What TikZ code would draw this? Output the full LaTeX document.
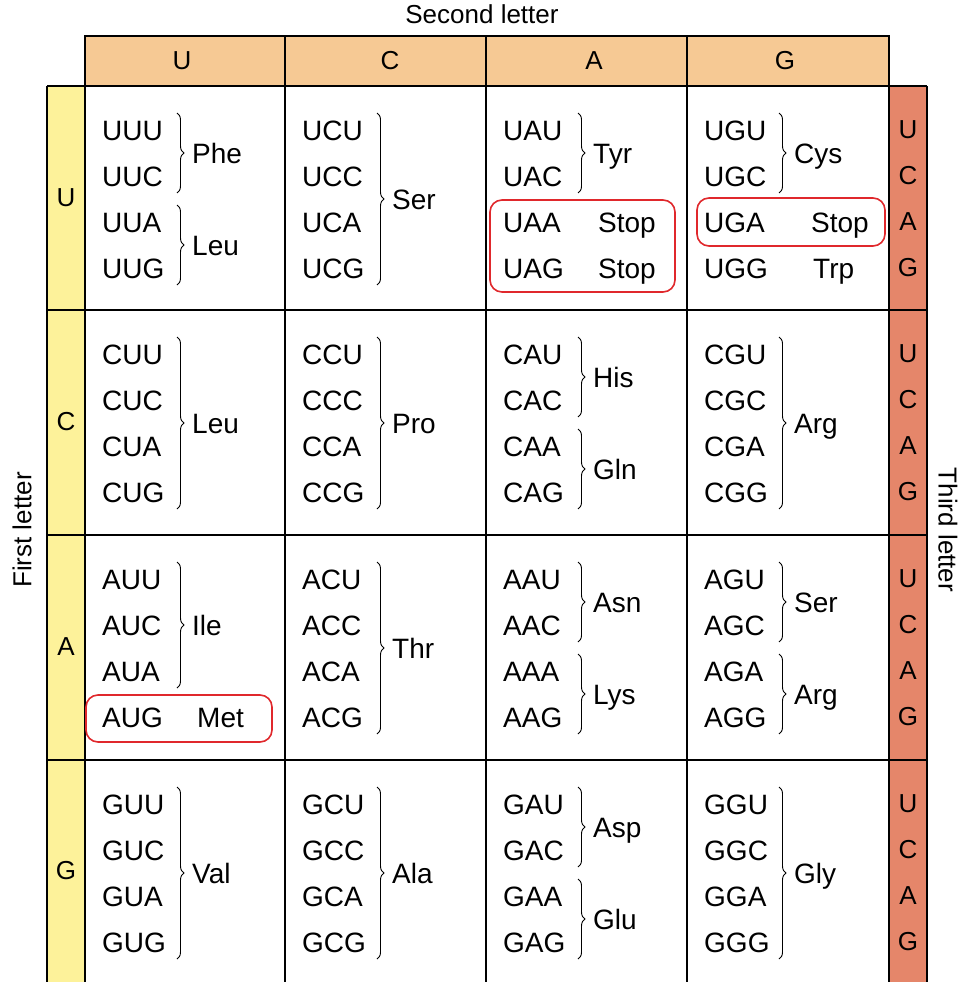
\documentclass[tikz,border=0pt]{standalone}
\usepackage{fontspec}
\setmainfont{Liberation Sans}
\usetikzlibrary{decorations.pathreplacing}
\definecolor{hdr}{HTML}{F6C994}
\definecolor{yel}{HTML}{FDF29A}
\definecolor{sal}{HTML}{E5866A}
\definecolor{stopred}{HTML}{E0282C}
\tikzset{
  cod/.style={anchor=base west,inner sep=0pt,font=\fontsize{28}{28}\selectfont},
  aa/.style={anchor=base west,inner sep=0pt,font=\fontsize{28}{28}\selectfont},
  lab/.style={inner sep=0pt,font=\fontsize{26}{26}\selectfont},
  brc/.style={decorate,decoration={brace,amplitude=7pt},line width=0.9pt},
  grid/.style={line width=2pt},
  hl/.style={draw=stopred,line width=1.6pt,rounded corners=12pt}
}
\newcommand{\codons}[6]{%
  \foreach \t [count=\i] in {#3,#4,#5,#6}
    \node[cod] (c-#3-\i) at (#1+17,#2+54+46*\i-46) {\t};}
\newcommand{\grp}[5]{%
  \draw[brc] (#1+92,#2+44+46*#3-46-17) -- (#1+92,#2+44+46*#4-46+17);
  \node[aa] (a-#1-#2-#3) at (#1+107,#2+54+23*#3+23*#4-46) {#5};}
\newcommand{\singl}[5]{%
  \node[aa] (s-#1-#2-#3) at (#1+#4,#2+54+46*#3-46) {#5};}
\begin{document}
\begin{tikzpicture}[x=1pt,y=-1pt]
\useasboundingbox (0,0) rectangle (966,982);
\fill[white] (0,0) rectangle (966,982);
\node[lab] (second) at (482,14) {Second letter};
\fill[hdr] (85,36) rectangle (889,86);
\fill[yel] (47,86) rectangle (85,982);
\fill[sal] (889,86) rectangle (927,982);
\draw[grid] (85,36) rectangle (889,86);
\foreach \x in {285,486,687} \draw[grid] (\x,36) -- (\x,982);
\draw[grid] (85,86) -- (85,982);
\draw[grid] (889,86) -- (889,982);
\draw[grid] (47,86) -- (47,982);
\draw[grid] (927,86) -- (927,982);
\draw[grid] (47,86) -- (927,86);
\foreach \y in {310,535,760} \draw[grid] (47,\y) -- (927,\y);
\foreach \l/\x in {U/182,C/390,A/594,G/785} \node[lab] (h\l) at (\x,61) {\l};
\foreach \l/\y in {U/198,C/422,A/647,G/871} \node[lab] (f\l) at (66,\y) {\l};
\foreach \y in {86,310,535,760}
  \foreach \l [count=\i] in {U,C,A,G}
    \node[lab] (t\l\y) at (908,\y+44+46*\i-46) {\l};
\node[lab,rotate=90] (first) at (22,530) {First letter};
\node[lab,rotate=-90] (third) at (948,530) {Third letter};
% row U
\codons{85}{86}{UUU}{UUC}{UUA}{UUG}
\grp{85}{86}{1}{2}{Phe}\grp{85}{86}{3}{4}{Leu}
\codons{285}{86}{UCU}{UCC}{UCA}{UCG}
\grp{285}{86}{1}{4}{Ser}
\codons{486}{86}{UAU}{UAC}{UAA}{UAG}
\grp{486}{86}{1}{2}{Tyr}
\singl{486}{86}{3}{112}{Stop}\singl{486}{86}{4}{112}{Stop}
\draw[hl] (490,200) rectangle (675,292);
\codons{687}{86}{UGU}{UGC}{UGA}{UGG}
\grp{687}{86}{1}{2}{Cys}
\singl{687}{86}{3}{124}{Stop}\singl{687}{86}{4}{126}{Trp}
\draw[hl] (697,198) rectangle (885,246);
% row C
\codons{85}{310}{CUU}{CUC}{CUA}{CUG}
\grp{85}{310}{1}{4}{Leu}
\codons{285}{310}{CCU}{CCC}{CCA}{CCG}
\grp{285}{310}{1}{4}{Pro}
\codons{486}{310}{CAU}{CAC}{CAA}{CAG}
\grp{486}{310}{1}{2}{His}\grp{486}{310}{3}{4}{Gln}
\codons{687}{310}{CGU}{CGC}{CGA}{CGG}
\grp{687}{310}{1}{4}{Arg}
% row A
\codons{85}{535}{AUU}{AUC}{AUA}{AUG}
\grp{85}{535}{1}{3}{Ile}
\singl{85}{535}{4}{112}{Met}
\draw[hl] (86,695) rectangle (272,742);
\codons{285}{535}{ACU}{ACC}{ACA}{ACG}
\grp{285}{535}{1}{4}{Thr}
\codons{486}{535}{AAU}{AAC}{AAA}{AAG}
\grp{486}{535}{1}{2}{Asn}\grp{486}{535}{3}{4}{Lys}
\codons{687}{535}{AGU}{AGC}{AGA}{AGG}
\grp{687}{535}{1}{2}{Ser}\grp{687}{535}{3}{4}{Arg}
% row G
\codons{85}{760}{GUU}{GUC}{GUA}{GUG}
\grp{85}{760}{1}{4}{Val}
\codons{285}{760}{GCU}{GCC}{GCA}{GCG}
\grp{285}{760}{1}{4}{Ala}
\codons{486}{760}{GAU}{GAC}{GAA}{GAG}
\grp{486}{760}{1}{2}{Asp}\grp{486}{760}{3}{4}{Glu}
\codons{687}{760}{GGU}{GGC}{GGA}{GGG}
\grp{687}{760}{1}{4}{Gly}
\end{tikzpicture}
\end{document}
